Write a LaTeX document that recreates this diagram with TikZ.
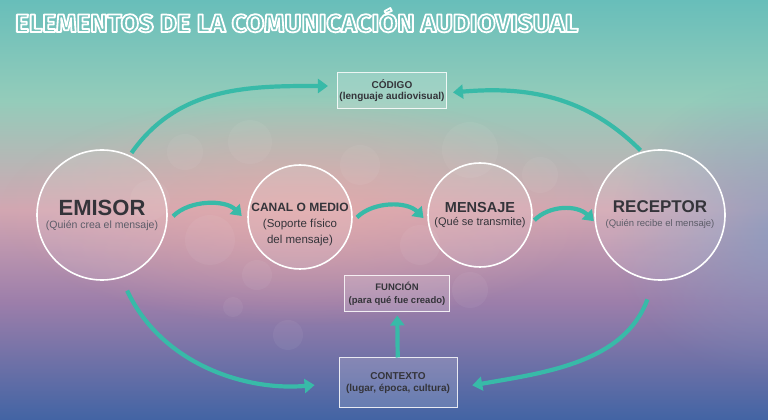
\documentclass[tikz,border=0pt]{standalone}
\usepackage{fontspec}
\setmainfont{Liberation Sans}
\newfontfamily\titlefont{Fira Sans}
\usetikzlibrary{arrows.meta, fadings}

\definecolor{fondoarriba}{RGB}{104,190,186}
\definecolor{fondoverde}{RGB}{148,204,186}
\definecolor{fondomedio}{RGB}{210,166,178}
\definecolor{fondolila}{RGB}{156,126,170}
\definecolor{fondoabajo}{RGB}{66,100,164}
\definecolor{fondorosa}{RGB}{232,172,168}
\definecolor{fondoazul}{RGB}{116,156,198}
\definecolor{flecha}{RGB}{56,186,168}
\definecolor{textoscuro}{RGB}{52,52,58}
\definecolor{textogris}{RGB}{92,92,104}

\pgfdeclareverticalshading{fondo}{100bp}{color(0bp)=(fondoabajo); color(25bp)=(fondoabajo);
  color(39bp)=(fondolila); color(50bp)=(fondomedio); color(63bp)=(fondoverde);
  color(75bp)=(fondoarriba); color(100bp)=(fondoarriba)}
\tikzfading[name=brillo, inner color=transparent!35, outer color=transparent!100]

% letras huecas del titulo
\newcommand{\hueco}[1]{\special{pdf:literal direct 1 Tr 0.7 w 1 j}#1\special{pdf:literal direct 0 Tr 0 j}}

\tikzset{
  circulo/.style={circle, draw=white, line width=1.6pt, fill=white, fill opacity=0.1,
    text opacity=1, align=center, inner sep=0pt, text=textoscuro},
  caja/.style={draw=white, draw opacity=0.85, line width=1pt, fill=white, fill opacity=0.15,
    text opacity=1, align=center, inner sep=2pt, text=textoscuro},
  flechita/.style={draw=flecha, line width=4.2pt, -{Triangle[length=10pt,width=14pt]}},
}

\begin{document}
\begin{tikzpicture}[x=1pt, y=1pt]
  % fondo
  \useasboundingbox (0,0) rectangle (768,420);
  \shade[shading=fondo] (0,0) rectangle (768,420);
  \fill[fondorosa, path fading=brillo] (300,210) ellipse (300 and 115);
  \fill[fondoazul, path fading=brillo] (780,190) ellipse (170 and 150);
  % manchas de luz
  \foreach \x/\y/\r in {185/268/18, 250/278/22, 470/270/28, 360/255/20, 257/145/15,
      233/113/10, 288/85/15, 210/180/25, 420/175/20, 540/245/18, 470/130/18, 150/220/20}
    \fill[white, opacity=0.05] (\x,\y) circle (\r);

  % titulo
  \node[anchor=base west, inner sep=0pt, text=white, font=\titlefont\bfseries] (titulo)
    at (15,388) {\resizebox{563pt}{24pt}{\hueco{ELEMENTOS DE LA COMUNICACIÓN AUDIOVISUAL}}};

  % circulos
  \node[circulo, minimum size=130pt, font=\fontsize{10.5}{13}\selectfont] (emisor) at (102,205)
    {{\fontsize{22}{24}\selectfont\bfseries EMISOR}\\{\color{textogris}(Quién crea el mensaje)}};
  \node[circulo, minimum size=104pt] (canal) at (300,203) {};
  \node[align=center, text=textoscuro, font=\fontsize{11.5}{16}\selectfont] (canaltexto) at (300,195)
    {{\fontsize{12}{16}\selectfont\bfseries CANAL O MEDIO}\\(Soporte físico\\del mensaje)};
  \node[circulo, minimum size=104pt, font=\fontsize{11}{13}\selectfont] (mensaje) at (480,205)
    {{\fontsize{14.5}{16}\selectfont\bfseries MENSAJE}\\(Qué se transmite)};
  \node[circulo, minimum size=130pt, font=\fontsize{9.5}{14}\selectfont] (receptor) at (660,205)
    {{\fontsize{17}{19}\selectfont\bfseries RECEPTOR}\\{\color{textogris}(Quién recibe el mensaje)}};

  % cajas
  \node[caja, minimum width=109pt, minimum height=36pt, font=\fontsize{10}{11}\selectfont\bfseries]
    (codigo) at (392,329) {CÓDIGO\\(lenguaje audiovisual)};
  \node[caja, minimum width=105pt, minimum height=36pt, font=\fontsize{9.5}{13}\selectfont\bfseries]
    (funcion) at (397,126) {FUNCIÓN\\(para qué fue creado)};
  \node[caja, minimum width=118pt, minimum height=50pt, font=\fontsize{10}{12}\selectfont\bfseries]
    (contexto) at (398,37) {CONTEXTO\\(lugar, época, cultura)};

  % flechas de arriba
  \draw[flechita, shorten <=3pt, shorten >=9pt] (emisor.65) to[out=55, in=180] ([yshift=5pt]codigo.west);
  \draw[flechita, shorten <=2pt, shorten >=6pt] (receptor.106) to[out=135, in=5] ([yshift=-2pt]codigo.east);
  % flechas del centro
  \draw[flechita, shorten <=8pt, shorten >=8pt] (emisor.-6) to[bend left=45] (canal.185);
  \draw[flechita, shorten <=6pt, shorten >=6pt] (canal.-5) to[bend left=45] (mensaje.188);
  \draw[flechita, shorten <=3pt, shorten >=1pt] (mensaje.-8) to[bend left=45] (receptor.186);
  % flechas de abajo
  \draw[flechita, shorten <=14pt, shorten >=24pt] (emisor.-73) to[out=-65, in=185] (contexto.west);
  \draw[flechita, shorten <=20pt, shorten >=15pt] (receptor.-95) to[out=-110, in=10] ([yshift=-5pt]contexto.east);
  \draw[flechita, shorten >=3pt] (contexto) -- (funcion);
\end{tikzpicture}
\end{document}
